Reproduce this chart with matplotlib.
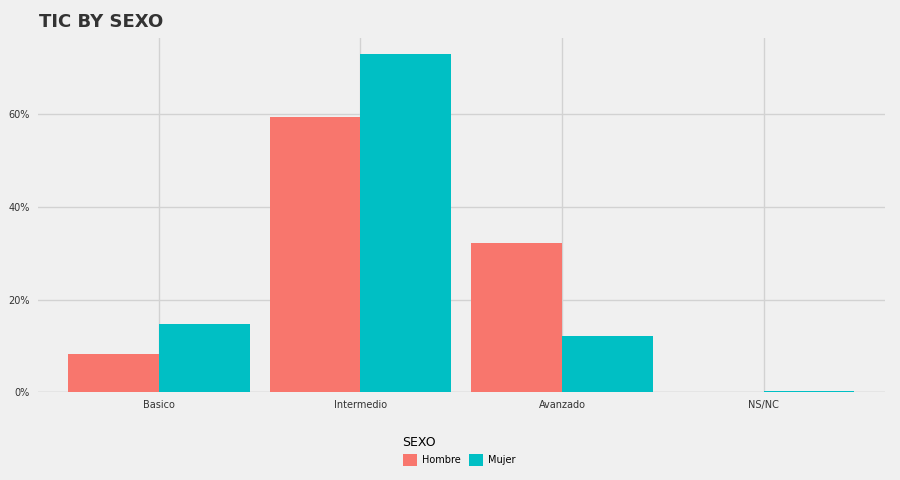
import matplotlib
matplotlib.use("Agg")
import matplotlib.pyplot as plt
import numpy as np

categories = ["Basico", "Intermedio", "Avanzado", "NS/NC"]
hombre = [8.2, 59.4, 32.2, 0.0]
mujer = [14.7, 73.0, 12.1, 0.3]
yticks = [0, 20, 40, 60]

bg = "#f0f0f0"
fig = plt.figure(figsize=(9, 4.8), dpi=100, facecolor=bg)
ax = fig.add_axes([0.042, 0.183, 0.941, 0.738], facecolor=bg)
x = np.arange(len(categories))
w = 0.45
ax.bar(x - w/2, hombre, w, color="#F8766D", label="Hombre", zorder=3)
ax.bar(x + w/2, mujer, w, color="#00BFC4", label="Mujer", zorder=3)
ax.set_xlim(-0.6, 3.6)
ax.set_ylim(0, 76.5)
ax.set_xticks(x)
ax.set_xticklabels(categories, fontsize=7, color="#333333")
ax.set_yticks(yticks)
ax.set_yticklabels([f"{v}%" for v in yticks], fontsize=7, color="#333333")
ax.tick_params(length=0, pad=6)
ax.grid(True, color="#d2d2d2", linewidth=1, zorder=0)
ax.axhline(0, color="#d2d2d2", linewidth=1, zorder=1)
for s in ax.spines.values():
    s.set_visible(False)
fig.text(0.043, 0.955, "TIC BY SEXO", fontsize=13, fontweight="bold", color="#333333", va="center")
leg = fig.legend(loc="center", bbox_to_anchor=(0.51, 0.06), ncol=2, frameon=False,
                 fontsize=7, title="SEXO", handlelength=1.5, handleheight=1.5,
                 columnspacing=0.8, handletextpad=0.5)
leg.get_title().set_fontsize(9)
leg._legend_box.align = "left"
# put title inline
from matplotlib.offsetbox import HPacker
leg._legend_box = leg._legend_box
fig.savefig("out.png", facecolor=bg)
